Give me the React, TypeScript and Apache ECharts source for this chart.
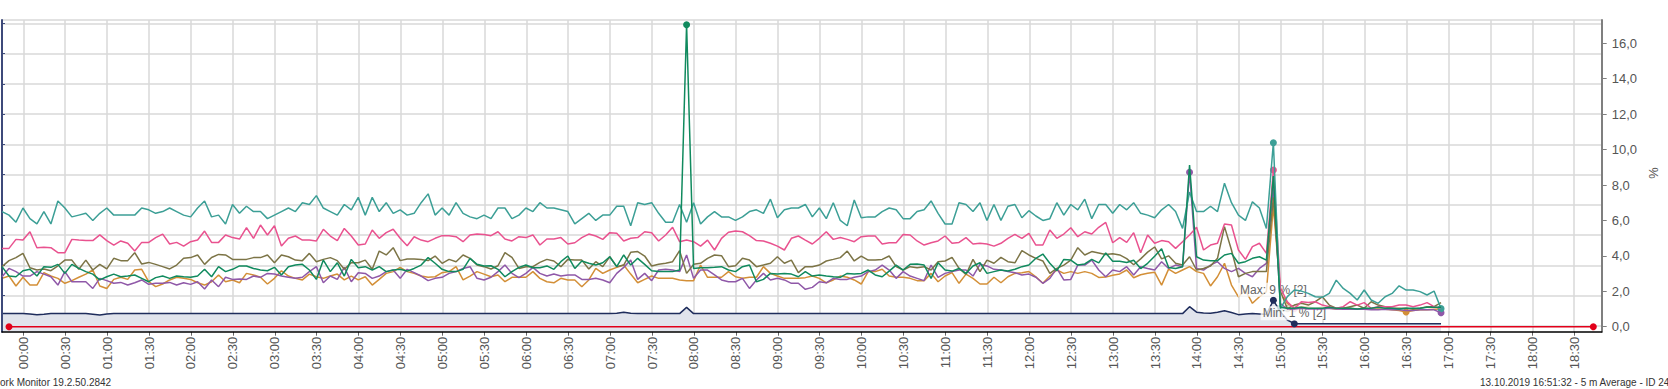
import React, { useEffect, useRef } from 'react';
import * as echarts from 'echarts';

// 5-minute averages; first sample at 23:45 (minutes relative to 00:00)
const START_MIN = -15;
const STEP_MIN = 5;

const TIME_LABELS = [
  '00:00', '00:30', '01:00', '01:30', '02:00', '02:30', '03:00', '03:30', '04:00', '04:30',
  '05:00', '05:30', '06:00', '06:30', '07:00', '07:30', '08:00', '08:30', '09:00', '09:30',
  '10:00', '10:30', '11:00', '11:30', '12:00', '12:30', '13:00', '13:30', '14:00', '14:30',
  '15:00', '15:30', '16:00', '16:30', '17:00', '17:30', '18:00', '18:30',
];
const Y_LABELS = ['0,0', '2,0', '4,0', '6,0', '8,0', '10,0', '12,0', '14,0', '16,0'];

const FOOTER_LEFT = 'ork Monitor 19.2.50.2842';
const FOOTER_RIGHT = '13.10.2019 16:51:32 - 5 m Average - ID 24';
const UNIT = '%';
const ANNOT_MAX = 'Max: 9 % [2]';
const ANNOT_MIN = 'Min: 1 % [2]';

const TEAL = [
  6.5, 6.3, 5.9, 6.7, 6.1, 5.8, 6.5, 5.8, 7.1, 6.7, 6.2, 6.3, 6.4, 6.0, 6.4, 6.7, 6.3, 6.3, 6.3, 6.3,
  6.7, 6.6, 6.4, 6.5, 6.7, 6.5, 6.3, 6.2, 6.7, 7.1, 6.2, 6.3, 5.8, 6.9, 6.4, 6.8, 6.5, 6.5, 6.1, 6.3,
  6.5, 6.7, 6.5,
  7.0, 6.9, 7.4, 6.7, 6.5, 6.3, 6.9, 6.6, 7.3, 6.3, 7.3, 6.5, 7.0, 6.4, 6.6, 6.3, 6.4, 7.0, 7.5, 6.3,
  6.7, 6.3, 7.0, 6.4, 6.2, 6.1, 6.3, 6.1, 6.7, 6.7, 6.1, 6.3, 6.7, 6.5, 7.0, 6.7, 6.7, 6.6, 6.5, 5.8,
  6.1, 6.4,
  6.0, 6.3, 6.3, 6.8, 6.8, 5.7, 7.0, 6.9, 7.0, 6.4, 5.9, 5.9, 6.9, 5.9, 7.0, 5.8, 6.2, 6.5, 6.2, 6.2,
  6.0, 6.2, 6.5, 6.6, 6.4, 7.2, 6.15, 6.6, 6.7, 6.7, 6.9, 6.2, 6.7, 6.1, 7.0, 6.0, 5.7, 7.15, 6.15, 6.2,
  6.2,
  6.5, 6.7, 6.6, 6.1, 6.1, 6.5, 6.6, 7.1, 6.4, 5.8, 5.8, 7.0, 6.9, 6.5, 7.0, 6.0, 6.9, 6.0, 6.8, 6.9,
  6.15, 6.55, 6.25, 6.0, 6.1, 7.0, 6.3, 6.9, 6.6, 7.2, 6.1, 6.9, 6.9, 6.4, 6.9, 6.6, 7.0, 6.4, 6.3, 6.15,
  6.6, 6.9,
  6.5, 5.55, 7.6, 6.5, 6.5, 6.8, 6.5, 8.1, 7.0, 6.3, 6.0, 7.05, 6.7, 5.55, 10.39,
  1.02, 1.7, 2.07, 2.01, 1.88, 1.69, 1.66, 1.88, 2.63, 2.16, 1.88, 1.51, 2.07, 1.51, 1.32, 1.69, 1.88,
  2.31, 2.07, 2.07, 1.98, 1.79, 2.01, 1.02,
];

const PINK = [
  4.42, 4.42, 4.93, 4.89, 5.36, 4.46, 4.48, 4.46, 4.18, 4.18, 4.93, 4.89, 4.86, 4.86, 5.18, 4.86, 4.61,
  4.84, 4.71, 4.27, 4.76, 4.76, 5.03, 5.23, 4.67, 4.76, 4.55, 4.80, 4.89, 5.40, 4.76, 4.76, 5.18, 5.03,
  4.95, 5.59, 4.99, 5.74, 5.18, 5.70, 4.55, 4.99, 5.12,
  4.89, 4.89, 4.84, 5.50, 5.12, 4.86, 5.55, 5.12, 4.61, 4.67, 5.46, 4.99, 5.31, 5.50, 4.99, 4.57, 5.08,
  4.89, 4.80, 4.99, 5.14, 5.14, 5.08, 4.80, 5.18, 5.23, 5.21, 5.14, 5.36, 4.95, 4.84, 5.08, 5.03, 5.18,
  4.61, 4.95, 4.95, 5.03, 4.67, 4.74, 5.03, 5.23,
  5.12, 4.93, 5.31, 5.27, 4.84, 4.99, 5.03, 5.36, 5.31, 4.84, 5.18, 5.61, 4.80, 4.89, 4.80, 4.55, 4.89,
  4.33, 4.99, 5.33, 5.40, 5.36, 5.14, 4.86, 4.84, 4.71, 4.55, 4.33, 4.99, 5.12, 4.89, 4.67, 4.99, 5.36,
  4.93, 5.04, 4.93, 4.80, 5.08, 5.12, 5.12,
  4.67, 4.74, 4.74, 5.21, 5.18, 4.84, 4.61, 4.74, 4.84, 5.12, 4.71, 4.76, 5.03, 4.67, 4.71, 4.67, 4.55,
  4.71, 4.99, 5.21, 4.99, 5.27, 4.61, 4.61, 5.46, 4.99, 5.23, 5.59, 5.08, 5.36, 5.23, 5.61, 5.89, 4.74,
  5.03, 4.76, 5.31, 4.18, 5.18, 4.71, 4.86, 4.80,
  4.42, 4.80, 5.18, 5.61, 4.33, 4.61, 4.71, 5.80, 5.74, 4.33, 3.80, 4.52, 4.71, 4.14, 8.85,
  2.2, 1.4, 1.02, 1.41, 1.36, 1.41, 1.22, 1.13, 1.04, 1.13, 1.41, 1.22, 1.36, 1.04, 1.13, 1.13, 1.13,
  1.22, 1.22, 1.13, 1.22, 1.36, 1.13, 1.04,
];

const OLIVE = [
  3.39, 3.73, 3.90, 4.14, 3.33, 3.20, 3.26, 3.16, 3.44, 3.76, 3.76, 3.24, 3.76, 3.20, 3.52, 3.26, 3.86,
  3.73, 3.73, 4.18, 3.54, 3.63, 3.52, 3.39, 3.26, 3.48, 3.86, 3.90, 4.05, 3.52, 3.91, 4.08, 4.05, 3.80,
  3.80, 3.80, 3.90, 3.90, 4.05, 3.61, 4.05, 3.95, 3.76,
  3.73, 4.14, 3.67, 3.80, 3.90, 3.73, 3.24, 3.61, 3.61, 3.76, 3.24, 4.27, 4.05, 4.46, 3.73, 3.82, 3.82,
  3.80, 3.73, 3.99, 3.58, 3.80, 3.67, 4.05, 3.86, 3.48, 3.39, 3.26, 3.44, 4.18, 3.91, 3.29, 3.39, 3.39,
  3.63, 3.80, 3.71, 3.39, 3.80, 3.76, 3.76, 3.26,
  3.67, 3.39, 3.95, 3.39, 3.48, 4.20, 4.24, 3.99, 3.43, 3.52, 3.58, 3.67, 4.29, 3.01, 3.52, 3.58, 3.86,
  4.05, 4.01, 3.39, 3.44, 3.86, 3.76, 3.39, 3.48, 3.58, 3.95, 3.58, 3.76, 3.05, 3.39, 3.39, 3.48, 3.71,
  3.80, 3.90, 4.27, 3.71, 3.99, 3.76, 3.76,
  3.80, 3.99, 3.39, 3.20, 3.39, 3.33, 3.39, 3.20, 3.67, 3.71, 3.91, 3.29, 2.95, 3.80, 3.11, 3.76, 3.58,
  3.91, 3.67, 3.61, 4.29, 4.05, 3.86, 3.71, 3.01, 3.29, 3.48, 3.76, 4.46, 4.05, 4.24, 4.16, 4.08, 4.12,
  4.05, 3.84, 3.50, 3.83, 4.21, 4.50, 3.83, 4.00,
  3.58, 3.48, 3.95, 3.20, 3.29, 3.43, 3.86, 5.65, 4.33, 2.82, 3.01, 3.11, 3.11, 3.11, 7.3,
  2.0, 1.02, 1.22, 1.32, 1.22, 1.41, 1.69, 1.22, 1.04, 1.04, 1.13, 1.22, 1.04, 1.41, 1.22, 1.13, 1.04,
  1.04, 1.04, 0.98, 1.04, 1.13, 1.13, 1.36,
];

const DKGREEN = [
  3.39, 2.86, 2.82, 3.16, 3.24, 2.86, 3.39, 3.35, 3.52, 3.01, 3.52, 3.29, 3.11, 2.97, 2.64, 2.82, 2.97,
  2.82, 2.86, 2.92, 2.73, 2.54, 2.77, 2.86, 2.73, 2.86, 2.82, 2.79, 2.86, 3.24, 2.82, 3.39, 3.11, 3.24,
  3.43, 3.43, 3.29, 3.20, 3.16, 3.35, 2.92, 3.39, 3.48,
  3.52, 3.20, 2.67, 3.76, 3.11, 3.61, 2.86, 3.80, 3.33, 3.39, 3.20, 3.39, 3.11, 3.20, 3.24, 3.14, 3.29,
  3.48, 3.90, 3.58, 3.24, 3.11, 3.11, 3.24, 3.86, 3.52, 3.43, 3.44, 3.24, 2.82, 3.11, 3.35, 3.48, 3.33,
  3.33, 3.43, 3.24, 3.67, 3.99, 3.29, 3.71, 3.58,
  3.48, 3.61, 3.95, 3.39, 4.05, 3.48, 3.86, 3.52, 3.16, 3.11, 3.11, 3.11, 3.20, 17.05, 3.29, 3.33, 3.33,
  3.35, 3.39, 3.20, 3.11, 3.39, 3.48, 2.54, 2.67, 3.01, 2.97, 3.01, 2.97, 2.82, 3.11, 2.86, 2.92, 2.86,
  2.82, 2.79, 3.01, 2.97, 3.01, 3.20, 2.92,
  2.82, 3.14, 3.48, 3.20, 3.52, 3.54, 3.48, 2.73, 3.61, 3.20, 3.14, 3.29, 3.01, 3.43, 3.61, 3.01, 3.11,
  3.20, 3.14, 3.24, 3.39, 3.48, 3.86, 4.10, 3.58, 3.16, 3.80, 3.76, 3.48, 3.54, 3.80, 3.60, 4.16, 3.70,
  3.70, 3.62, 3.75, 3.28, 3.58, 3.98, 4.40, 3.34,
  3.29, 3.39, 9.13, 3.95, 3.76, 3.73, 3.73, 4.05, 4.14, 3.58, 3.67, 3.86, 3.95, 3.76, 8.5,
  1.1, 1.04, 1.04, 1.1, 1.04, 1.04, 1.04, 1.1, 1.04, 1.04, 1.04, 1.0, 1.04, 1.04, 1.1, 1.04, 1.04, 1.0,
  1.04, 1.04, 1.04, 1.1, 1.1, 1.1,
];

const PURPLE = [
  2.82, 3.29, 3.11, 2.86, 2.86, 3.11, 2.97, 2.82, 2.35, 3.11, 2.54, 2.54, 2.54, 2.16, 2.73, 2.60, 2.45,
  2.50, 2.35, 2.48, 2.64, 2.39, 2.45, 2.45, 2.50, 2.35, 2.48, 2.39, 2.54, 2.13, 2.64, 2.26, 2.79, 2.67,
  2.69, 2.67, 2.86, 2.79, 3.01, 2.97, 2.86, 2.79, 2.73,
  2.79, 3.11, 3.39, 2.48, 2.86, 2.67, 3.35, 2.54, 3.05, 3.01, 2.73, 2.86, 3.11, 3.20, 2.73, 3.24, 3.05,
  2.86, 2.60, 2.73, 2.79, 3.01, 3.11, 3.29, 3.39, 2.73, 2.64, 2.79, 3.11, 3.48, 3.01, 2.77, 3.01, 3.35,
  3.01, 2.86, 2.97, 2.86, 2.92, 2.92, 2.67, 2.67,
  2.73, 2.64, 2.48, 3.01, 3.35, 3.76, 2.67, 3.01, 2.60, 3.20, 3.24, 3.20, 3.11, 4.05, 2.73, 3.20, 3.20,
  2.92, 2.64, 2.54, 2.54, 2.73, 2.16, 2.64, 3.01, 2.64, 2.73, 2.64, 2.45, 2.45, 2.11, 2.22, 2.54, 2.48,
  2.73, 2.67, 2.67, 2.79, 2.86, 3.11, 3.20,
  3.48, 3.20, 2.73, 3.11, 2.86, 2.73, 2.60, 3.48, 2.79, 3.01, 3.11, 3.20, 3.20, 2.86, 3.52, 3.43, 3.24,
  3.20, 3.11, 3.05, 2.92, 2.97, 2.79, 2.45, 2.73, 3.29, 2.64, 2.67, 3.48, 3.48, 3.76, 3.20, 2.82, 3.20,
  3.11, 3.39, 2.92, 3.39, 3.29, 3.20, 3.67, 3.29,
  3.48, 3.39, 8.72, 3.29, 3.20, 3.48, 3.67, 3.29, 3.11, 3.29, 3.01, 2.82, 3.29, 3.58, 7.9,
  1.3, 1.0, 1.0, 1.04, 1.0, 1.0, 1.0, 1.04, 1.0, 0.98, 0.98, 1.0, 0.98, 0.95, 0.95, 0.98, 0.95, 0.95,
  0.92, 0.92, 0.95, 0.95, 0.95, 0.79,
];

const ORANGE = [
  2.73, 2.86, 2.30, 2.79, 2.35, 2.35, 3.05, 2.86, 2.73, 2.45, 2.60, 2.79, 2.97, 3.20, 2.30, 2.16, 2.67,
  2.79, 2.67, 3.20, 3.24, 2.54, 2.26, 2.41, 2.64, 2.79, 2.73, 2.67, 2.48, 2.35, 2.54, 2.92, 2.54, 2.64,
  2.48, 3.01, 2.92, 2.79, 2.41, 2.73, 3.16, 2.86, 2.73,
  2.64, 2.97, 2.82, 2.73, 2.86, 2.97, 2.64, 2.86, 2.64, 2.82, 2.35, 2.67, 3.01, 3.11, 3.35, 3.11, 3.01,
  2.86, 2.79, 2.82, 3.05, 3.11, 3.39, 2.64, 2.86, 3.11, 2.97, 2.82, 2.92, 2.54, 2.79, 2.79, 2.79, 3.11,
  2.73, 2.54, 2.48, 2.73, 2.64, 2.64, 2.26, 2.64,
  3.29, 3.01, 3.20, 3.35, 3.48, 2.97, 2.48, 2.67, 2.86, 2.73, 2.73, 2.73, 2.64, 2.60, 2.60, 3.48, 2.79,
  2.79, 2.79, 3.11, 2.82, 2.73, 2.79, 2.79, 3.39, 3.01, 2.86, 2.73, 2.73, 2.73, 2.77, 2.86, 2.73, 2.48,
  2.64, 2.86, 2.79, 2.64, 2.41, 3.11, 3.11,
  3.24, 2.86, 2.79, 2.79, 2.73, 2.60, 2.60, 3.01, 2.54, 2.86, 3.05, 2.45, 2.97, 2.73, 2.41, 2.41, 2.79,
  2.48, 2.82, 3.01, 3.05, 3.11, 2.82, 2.45, 2.86, 3.20, 3.01, 3.11, 3.01, 3.11, 3.01, 2.78, 2.80, 2.90,
  2.98, 3.20, 2.76, 2.93, 3.02, 3.08, 2.35, 3.25,
  3.01, 3.20, 3.39, 3.11, 3.01, 2.30, 2.82, 3.58, 2.35, 1.69, 2.07, 1.32, 1.69, 1.98, 6.8,
  2.0, 1.3, 1.1, 1.13, 1.1, 1.04, 1.1, 1.04, 1.0, 1.04, 1.04, 1.0, 1.04, 1.0, 1.0, 0.98, 0.95, 0.92,
  0.83, 0.92, 0.95, 0.95, 0.98, 1.0,
];

const NAVY = [
  0.74, 0.74, 0.74, 0.74, 0.72, 0.68, 0.70, 0.74, 0.74, 0.74,
  0.74, 0.74, 0.74, 0.70, 0.66, 0.72, 0.74, 0.74, 0.74, 0.74,
  0.74, 0.74, 0.74, 0.74, 0.74, 0.74, 0.74, 0.74, 0.74, 0.74,
  0.74, 0.74, 0.74, 0.74, 0.74, 0.74, 0.74, 0.74, 0.74, 0.74,
  0.74, 0.74, 0.74, 0.74, 0.74, 0.74, 0.74, 0.74, 0.74, 0.74,
  0.74, 0.74, 0.74, 0.74, 0.74, 0.74, 0.74, 0.74, 0.74, 0.74,
  0.74, 0.74, 0.74, 0.74, 0.74, 0.74, 0.74, 0.74, 0.74, 0.74,
  0.74, 0.74, 0.74, 0.74, 0.74, 0.74, 0.74, 0.74, 0.74, 0.74,
  0.74, 0.74, 0.74, 0.74, 0.74, 0.74, 0.74, 0.74, 0.76, 0.82,
  0.76, 0.74, 0.74, 0.74, 0.74, 0.74, 0.74, 0.74, 1.09, 0.74,
  0.74, 0.74, 0.74, 0.74, 0.74, 0.74, 0.74, 0.74, 0.74, 0.74,
  0.74, 0.74, 0.74, 0.74, 0.74, 0.74, 0.74, 0.74, 0.74, 0.74,
  0.74, 0.74, 0.74, 0.74, 0.74, 0.74, 0.74, 0.74, 0.74, 0.74,
  0.74, 0.74, 0.74, 0.74, 0.74, 0.74, 0.74, 0.74, 0.74, 0.74,
  0.74, 0.74, 0.74, 0.74, 0.74, 0.74, 0.74, 0.74, 0.74, 0.74,
  0.74, 0.74, 0.74, 0.74, 0.74, 0.74, 0.74, 0.74, 0.74, 0.74,
  0.74, 0.74, 0.74, 0.74, 0.74, 0.74, 0.74, 0.74, 0.74, 0.74,
  1.13, 0.82, 0.78, 0.76, 0.82, 0.90, 0.80, 0.68, 0.72, 0.74,
  0.72, 0.70, 1.49, 0.85, 0.38, 0.17, 0.17, 0.17, 0.17, 0.17,
  0.17, 0.17, 0.17, 0.17, 0.17, 0.17, 0.17, 0.17, 0.17, 0.17,
  0.17, 0.17, 0.17, 0.17, 0.17, 0.17, 0.17,
];

// red reference line (0 %) from 23:50 to 18:44
const RED_X = [-10, 1124];
const RED_VALUE = 0;

const NAVY_MAX_IDX = 182;
const NAVY_MIN_IDX = 185;

const LINES = [
  { name: 'Kanal 6', color: '#d38f37', data: ORANGE, marks: [201], light: [] as number[] },
  { name: 'Kanal 5', color: '#8f58a8', data: PURPLE, marks: [170, 206], light: [] as number[] },
  { name: 'Kanal 4', color: '#7c7446', data: OLIVE, marks: [184], light: [184] },
  { name: 'Kanal 3', color: '#e9528f', data: PINK, marks: [182, 185], light: [185] },
  { name: 'Kanal 2', color: '#3c9f96', data: TEAL, marks: [182, 183, 206], light: [183] },
  { name: 'Kanal 1', color: '#108a5e', data: DKGREEN, marks: [98], light: [] as number[] },
];

const FONT = '"Liberation Sans", Arial, sans-serif';
const t = (i: number) => START_MIN + i * STEP_MIN;
const toPairs = (arr: number[]) => arr.map((v, i) => [t(i), v]);

export default function App() {
  const ref = useRef<HTMLDivElement>(null);

  useEffect(() => {
    if (!ref.current) return;
    const chart = echarts.init(ref.current, undefined, { renderer: 'svg' });

    const annotLabel = (text: string) => ({
      show: true,
      position: 'top',
      distance: 0,
      formatter: text,
      color: '#666',
      fontSize: 12,
      fontFamily: FONT,
      backgroundColor: 'rgba(255,255,255,0.75)',
      padding: [1, 2],
    });

    const series: any[] = [
      {
        name: 'Kanal 7',
        type: 'line',
        xAxisIndex: 0,
        yAxisIndex: 0,
        data: toPairs(NAVY),
        showSymbol: false,
        symbol: 'none',
        lineStyle: { color: '#1f2d5c', width: 1.5 },
        itemStyle: { color: '#1f2d5c' },
        areaStyle: { color: '#e1e4ec', opacity: 1, origin: 'start' },
        z: 2,
        markPoint: {
          symbol: 'circle',
          symbolSize: 7,
          silent: true,
          itemStyle: { color: '#1f2d5c' },
          data: [
            { coord: [t(NAVY_MAX_IDX), NAVY[NAVY_MAX_IDX]], label: annotLabel(ANNOT_MAX) },
            { coord: [t(NAVY_MIN_IDX), NAVY[NAVY_MIN_IDX]], label: annotLabel(ANNOT_MIN) },
          ],
        },
      },
      {
        name: 'Limit',
        type: 'line',
        xAxisIndex: 0,
        yAxisIndex: 0,
        data: RED_X.map((x) => [x, RED_VALUE]),
        symbol: 'circle',
        symbolSize: 7,
        showSymbol: true,
        lineStyle: { color: '#e2001a', width: 1.5 },
        itemStyle: { color: '#e2001a' },
        z: 3,
      },
      ...LINES.map((s, k) => ({
        name: s.name,
        type: 'line',
        xAxisIndex: 0,
        yAxisIndex: 0,
        data: toPairs(s.data),
        showSymbol: false,
        symbol: 'none',
        lineStyle: { color: s.color, width: 1.5 },
        itemStyle: { color: s.color },
        z: 4 + k,
        markPoint: {
          symbol: 'circle',
          symbolSize: 7,
          silent: true,
          label: { show: false },
          data: s.marks.map((i) => ({
            coord: [t(i), s.data[i]],
            itemStyle: { color: s.color, opacity: s.light.includes(i) ? 0.5 : 1 },
          })),
        },
      })),
    ];

    chart.setOption({
      animation: false,
      textStyle: { fontFamily: FONT },
      grid: [
        { left: 2, top: 20, width: 1599.7, height: 311.7 },
        { left: 23.3, top: 20, width: 1550.9, height: 311.7 },
        { left: 2, top: 23.3, width: 1599.7, height: 302.7 },
        { left: 2, top: 43.3, width: 1599.7, height: 283.4 },
      ],
      xAxis: [
        {
          gridIndex: 0,
          type: 'value',
          min: -15,
          max: 1130,
          axisLine: { show: true, onZero: false, lineStyle: { color: '#000', width: 1.5 } },
          axisTick: { show: false },
          axisLabel: { show: false },
          splitLine: { show: false },
          z: 5,
        },
        {
          gridIndex: 1,
          type: 'value',
          min: 0,
          max: 1110,
          interval: 30,
          axisLine: { show: false, onZero: false },
          axisTick: { show: true, length: 4, lineStyle: { color: '#666' } },
          axisLabel: {
            rotate: 90,
            margin: 5,
            color: '#555',
            fontSize: 13,
            fontFamily: FONT,
            formatter: (v: number) => TIME_LABELS[Math.round(v / 30)] ?? '',
          },
          splitLine: { show: true, lineStyle: { color: '#d9d9d9', width: 1.5 } },
        },
        { gridIndex: 2, type: 'value', min: 0, max: 1, show: false },
        { gridIndex: 3, type: 'value', min: 0, max: 1, show: false },
      ],
      yAxis: [
        {
          gridIndex: 0,
          type: 'value',
          position: 'right',
          min: -0.2823,
          max: 17.315,
          axisLine: { show: true, onZero: false, lineStyle: { color: '#7f7f7f', width: 2 } },
          axisTick: { show: false },
          axisLabel: { show: false },
          splitLine: { show: false },
          z: 5,
        },
        {
          gridIndex: 0,
          type: 'value',
          position: 'left',
          min: -0.2823,
          max: 17.315,
          axisLine: { show: true, onZero: false, lineStyle: { color: '#3e4a7a', width: 2 } },
          axisTick: { show: false },
          axisLabel: { show: false },
          splitLine: { show: false },
          z: 5,
        },
        { gridIndex: 1, type: 'value', min: 0, max: 1, show: false },
        {
          gridIndex: 2,
          type: 'value',
          position: 'left',
          min: 0,
          max: 10,
          interval: 1,
          axisLine: { show: false, onZero: false },
          axisTick: { show: true, inside: true, length: 3, lineStyle: { color: '#3e4a7a' } },
          axisLabel: { show: false },
          splitLine: { show: true, lineStyle: { color: '#d9d9d9', width: 1.5 } },
        },
        {
          gridIndex: 3,
          type: 'value',
          position: 'right',
          min: 0,
          max: 16,
          interval: 2,
          axisLine: { show: false, onZero: false },
          axisTick: { show: true, length: 5, lineStyle: { color: '#7f7f7f' } },
          axisLabel: {
            margin: 10,
            color: '#555',
            fontSize: 13,
            fontFamily: FONT,
            formatter: (v: number) => Y_LABELS[Math.round(v / 2)] ?? '',
          },
          splitLine: { show: false },
        },
      ],
      graphic: [
        {
          type: 'line',
          shape: { x1: 2, y1: 20, x2: 1601.7, y2: 20 },
          style: { stroke: '#d9d9d9', lineWidth: 1.5 },
          silent: true,
        },
        {
          type: 'text',
          x: 1653,
          y: 173,
          rotation: -Math.PI / 2,
          style: { text: UNIT, fill: '#555', font: `13px ${FONT}`, align: 'center', verticalAlign: 'middle' },
        },
        {
          type: 'text',
          x: 0,
          y: 382,
          style: { text: FOOTER_LEFT, fill: '#333', font: `10px ${FONT}`, verticalAlign: 'middle' },
        },
        {
          type: 'text',
          x: 1480,
          y: 382,
          style: { text: FOOTER_RIGHT, fill: '#333', font: `10px ${FONT}`, verticalAlign: 'middle' },
        },
      ],
      series,
    });

    return () => chart.dispose();
  }, []);

  return (
    <div
      ref={ref}
      style={{ position: 'absolute', left: 0, top: 0, width: 1668, height: 389, background: '#fff' }}
    />
  );
}
